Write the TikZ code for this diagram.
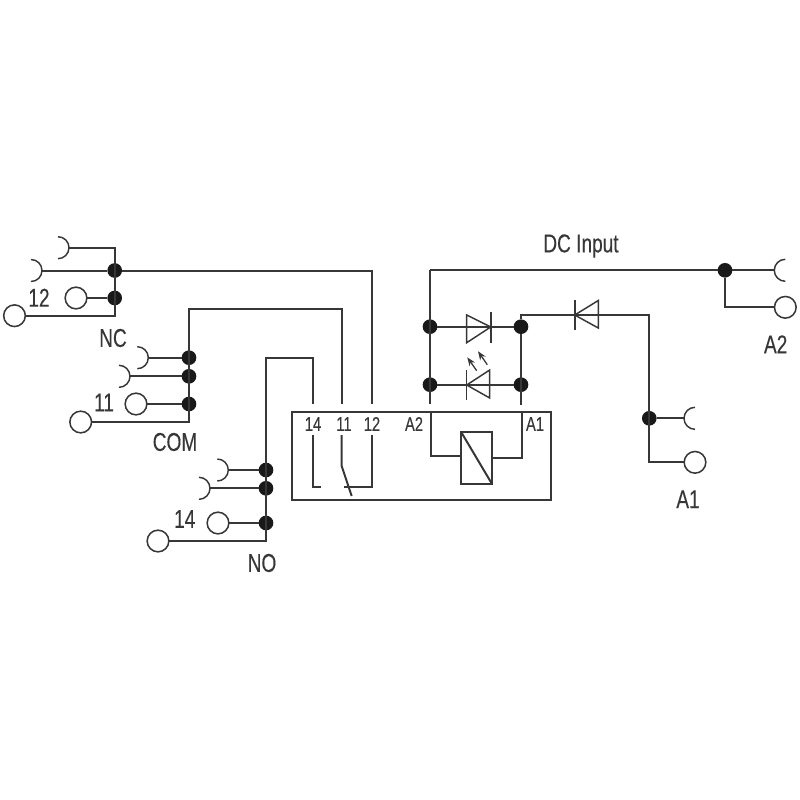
\documentclass[tikz,border=0pt]{standalone}
\usepackage{fontspec}
\setmainfont[FakeStretch=0.74,FakeBold=0.25]{Liberation Sans}
\usetikzlibrary{arrows.meta}
\definecolor{ink}{RGB}{55,55,55}
\newcommand{\socketR}[1]{\draw[thinwire] (#1) arc[start angle=0,end angle=90,radius=3.3mm] (#1) arc[start angle=0,end angle=-90,radius=3.3mm];}
\newcommand{\socketL}[1]{\draw[thinwire] (#1) arc[start angle=180,end angle=90,radius=3.3mm] (#1) arc[start angle=180,end angle=270,radius=3.3mm];}
\tikzset{
  wire/.style={draw=ink,line width=1.7pt,line join=miter},
  thinwire/.style={draw=ink,line width=1.25pt,line join=miter},
  jdot/.style={circle,fill=black!90,inner sep=0pt,outer sep=0pt,minimum size=4.4mm},
  term/.style={circle,draw=ink,line width=1.3pt,inner sep=0pt,outer sep=0pt,minimum size=6.5mm},
  biglabel/.style={inner sep=0pt,text=ink,font=\fontsize{22}{22}\selectfont},
  smalllabel/.style={inner sep=0pt,text=ink,font=\fontsize{17}{17}\selectfont},
  ledarrow/.style={draw=ink,line width=1.1pt,-{Stealth[length=2.6mm,width=2mm]}}
}
\begin{document}
\begin{tikzpicture}[x=0.03cm,y=-0.03cm]
\useasboundingbox (0,0) rectangle (800,800);
% ---- NC group
\coordinate (s1) at (69,247.7);
\coordinate (s2) at (42,270.5);
\coordinate (nc1) at (115,247.7);
\coordinate (nc2) at (115,315.7);
\node[jdot] (j1) at (114.7,270.5) {};
\node[jdot] (j2) at (114.7,298) {};
\node[term] (t12a) at (76,298) {};
\node[term] (t12b) at (14.5,315.7) {};
\coordinate (m12a) at (372,270.5);
\coordinate (m12b) at (372,404);
\draw[wire] (s1) -- (nc1) -- (nc2) -- (t12b);
\draw[wire] (s2) -- (j1) -- (m12a) -- (m12b);
\draw[wire] (t12a) -- (j2);
\socketR{s1}\socketR{s2}
\node[biglabel] (l12) at (39,297.7) {12};
\node[biglabel] (lnc) at (113,338) {NC};
% ---- COM group
\coordinate (s3) at (148.3,357.7);
\coordinate (s4) at (130,376.3);
\node[jdot] (j3) at (189,357.7) {};
\node[jdot] (j4) at (189,376.3) {};
\node[jdot] (j5) at (189,404) {};
\node[term] (t11a) at (136,404) {};
\node[term] (t11b) at (80.7,422) {};
\coordinate (c1) at (189,422);
\coordinate (c2) at (189,309);
\coordinate (m11a) at (341.7,309);
\coordinate (m11b) at (341.7,404);
\draw[wire] (t11b) -- (c1) -- (c2) -- (m11a) -- (m11b);
\draw[wire] (s3) -- (j3);
\draw[wire] (s4) -- (j4);
\draw[wire] (t11a) -- (j5);
\socketR{s3}\socketR{s4}
\node[biglabel] (l11) at (104,402.5) {11};
\node[biglabel] (lcom) at (175,442) {COM};
% ---- NO group
\coordinate (s5) at (228.3,470);
\coordinate (s6) at (210,488.3);
\node[jdot] (j6) at (266,470) {};
\node[jdot] (j7) at (266,488.3) {};
\node[jdot] (j8) at (266,523) {};
\node[term] (t14a) at (218,523) {};
\node[term] (t14b) at (158,541) {};
\coordinate (n1) at (266,541);
\coordinate (n2) at (266,358.3);
\coordinate (m14a) at (313,358.3);
\coordinate (m14b) at (313,404);
\draw[wire] (t14b) -- (n1) -- (n2) -- (m14a) -- (m14b);
\draw[wire] (s5) -- (j6);
\draw[wire] (s6) -- (j7);
\draw[wire] (t14a) -- (j8);
\socketR{s5}\socketR{s6}
\node[biglabel] (l14) at (184.7,519) {14};
\node[biglabel] (lno) at (262,563) {NO};
% ---- relay box
\draw[wire] (291.7,412.3) rectangle (551,499.7);
\node[smalllabel] (i14) at (313,424) {14};
\node[smalllabel] (i11) at (344,424) {11};
\node[smalllabel] (i12) at (372,424) {12};
\node[smalllabel] (ia2) at (414,424) {A2};
\node[smalllabel] (ia1) at (535,424) {A1};
\draw[wire] (313,435) -- (313,487) -- (321,487);
\draw[wire] (341.7,435) -- (341.7,466) -- (351.7,496);
\draw[wire] (372,435) -- (372,486.7) -- (344,486.7);
% coil
\node[draw=ink,line width=1.7pt,inner sep=0pt,outer sep=0pt,minimum width=9.2mm,minimum height=15.5mm] (coil) at (476.7,458.2) {};
\draw[wire] (coil.north west) -- (coil.south east);
\coordinate (a2t) at (430.7,412.3);
\coordinate (a2b) at (430.7,456);
\coordinate (a1t) at (521.7,412.3);
\coordinate (a1b) at (521.7,458);
\draw[wire] (a2t) -- (a2b) -- (a2b -| coil.west);
\draw[wire] (a1t) -- (a1b) -- (a1b -| coil.east);
% ---- bridge
\node[jdot] (b1) at (430,326.7) {};
\node[jdot] (b2) at (521,326.7) {};
\node[jdot] (b3) at (430,384.7) {};
\node[jdot] (b4) at (521,384.7) {};
\node[jdot] (j9) at (725,270.3) {};
\coordinate (top) at (430,270.3);
\coordinate (lb) at (430,404);
\coordinate (rb) at (521,404.5);
\draw[wire] (top) -- (lb);
\draw[wire] (top) -- (j9);
\draw[wire] (b2) -- (rb);
\draw[wire] (b1) -- (b2);
\draw[wire] (b3) -- (b4);
\draw[thinwire] (466.7,315) -- (466.7,342.7) -- (490.7,327) -- cycle;
\draw[wire] (491,311.7) -- (491,342.7);
\draw[thinwire] (489.7,370) -- (489.7,398) -- (466.7,385) -- cycle;
\draw[wire] (466.5,370) -- (466.5,400);
\draw[ledarrow] (476.7,370.7) -- (467.3,357.3);
\draw[ledarrow] (487.3,364.7) -- (478,351.3);
% ---- A1 side
\coordinate (d1) at (521,315);
\coordinate (d2) at (649.3,315);
\coordinate (d3) at (649.3,462.3);
\node[jdot] (j10) at (649.3,418.3) {};
\node[term] (ta1) at (695,462.3) {};
\coordinate (s7) at (684,418.3);
\draw[wire] (b2) -- (d1) -- (d2) -- (d3) -- (ta1);
\draw[wire] (j10) -- (s7);
\socketL{s7}
\draw[thinwire] (598.3,300.5) -- (598.3,328) -- (574.7,315) -- cycle;
\draw[wire] (574.7,300) -- (574.7,330);
\node[biglabel] (la1) at (688,499.3) {A1};
% ---- A2 side
\coordinate (s8) at (774.3,270.3);
\node[term] (ta2) at (785.3,307.3) {};
\coordinate (a2c) at (725,307.3);
\draw[wire] (j9) -- (s8);
\draw[wire] (j9) -- (a2c) -- (ta2);
\socketL{s8}
\node[biglabel] (la2) at (775.7,344.3) {A2};
\node[biglabel] (ldc) at (581,246) {DC Input};
\end{tikzpicture}
\end{document}
